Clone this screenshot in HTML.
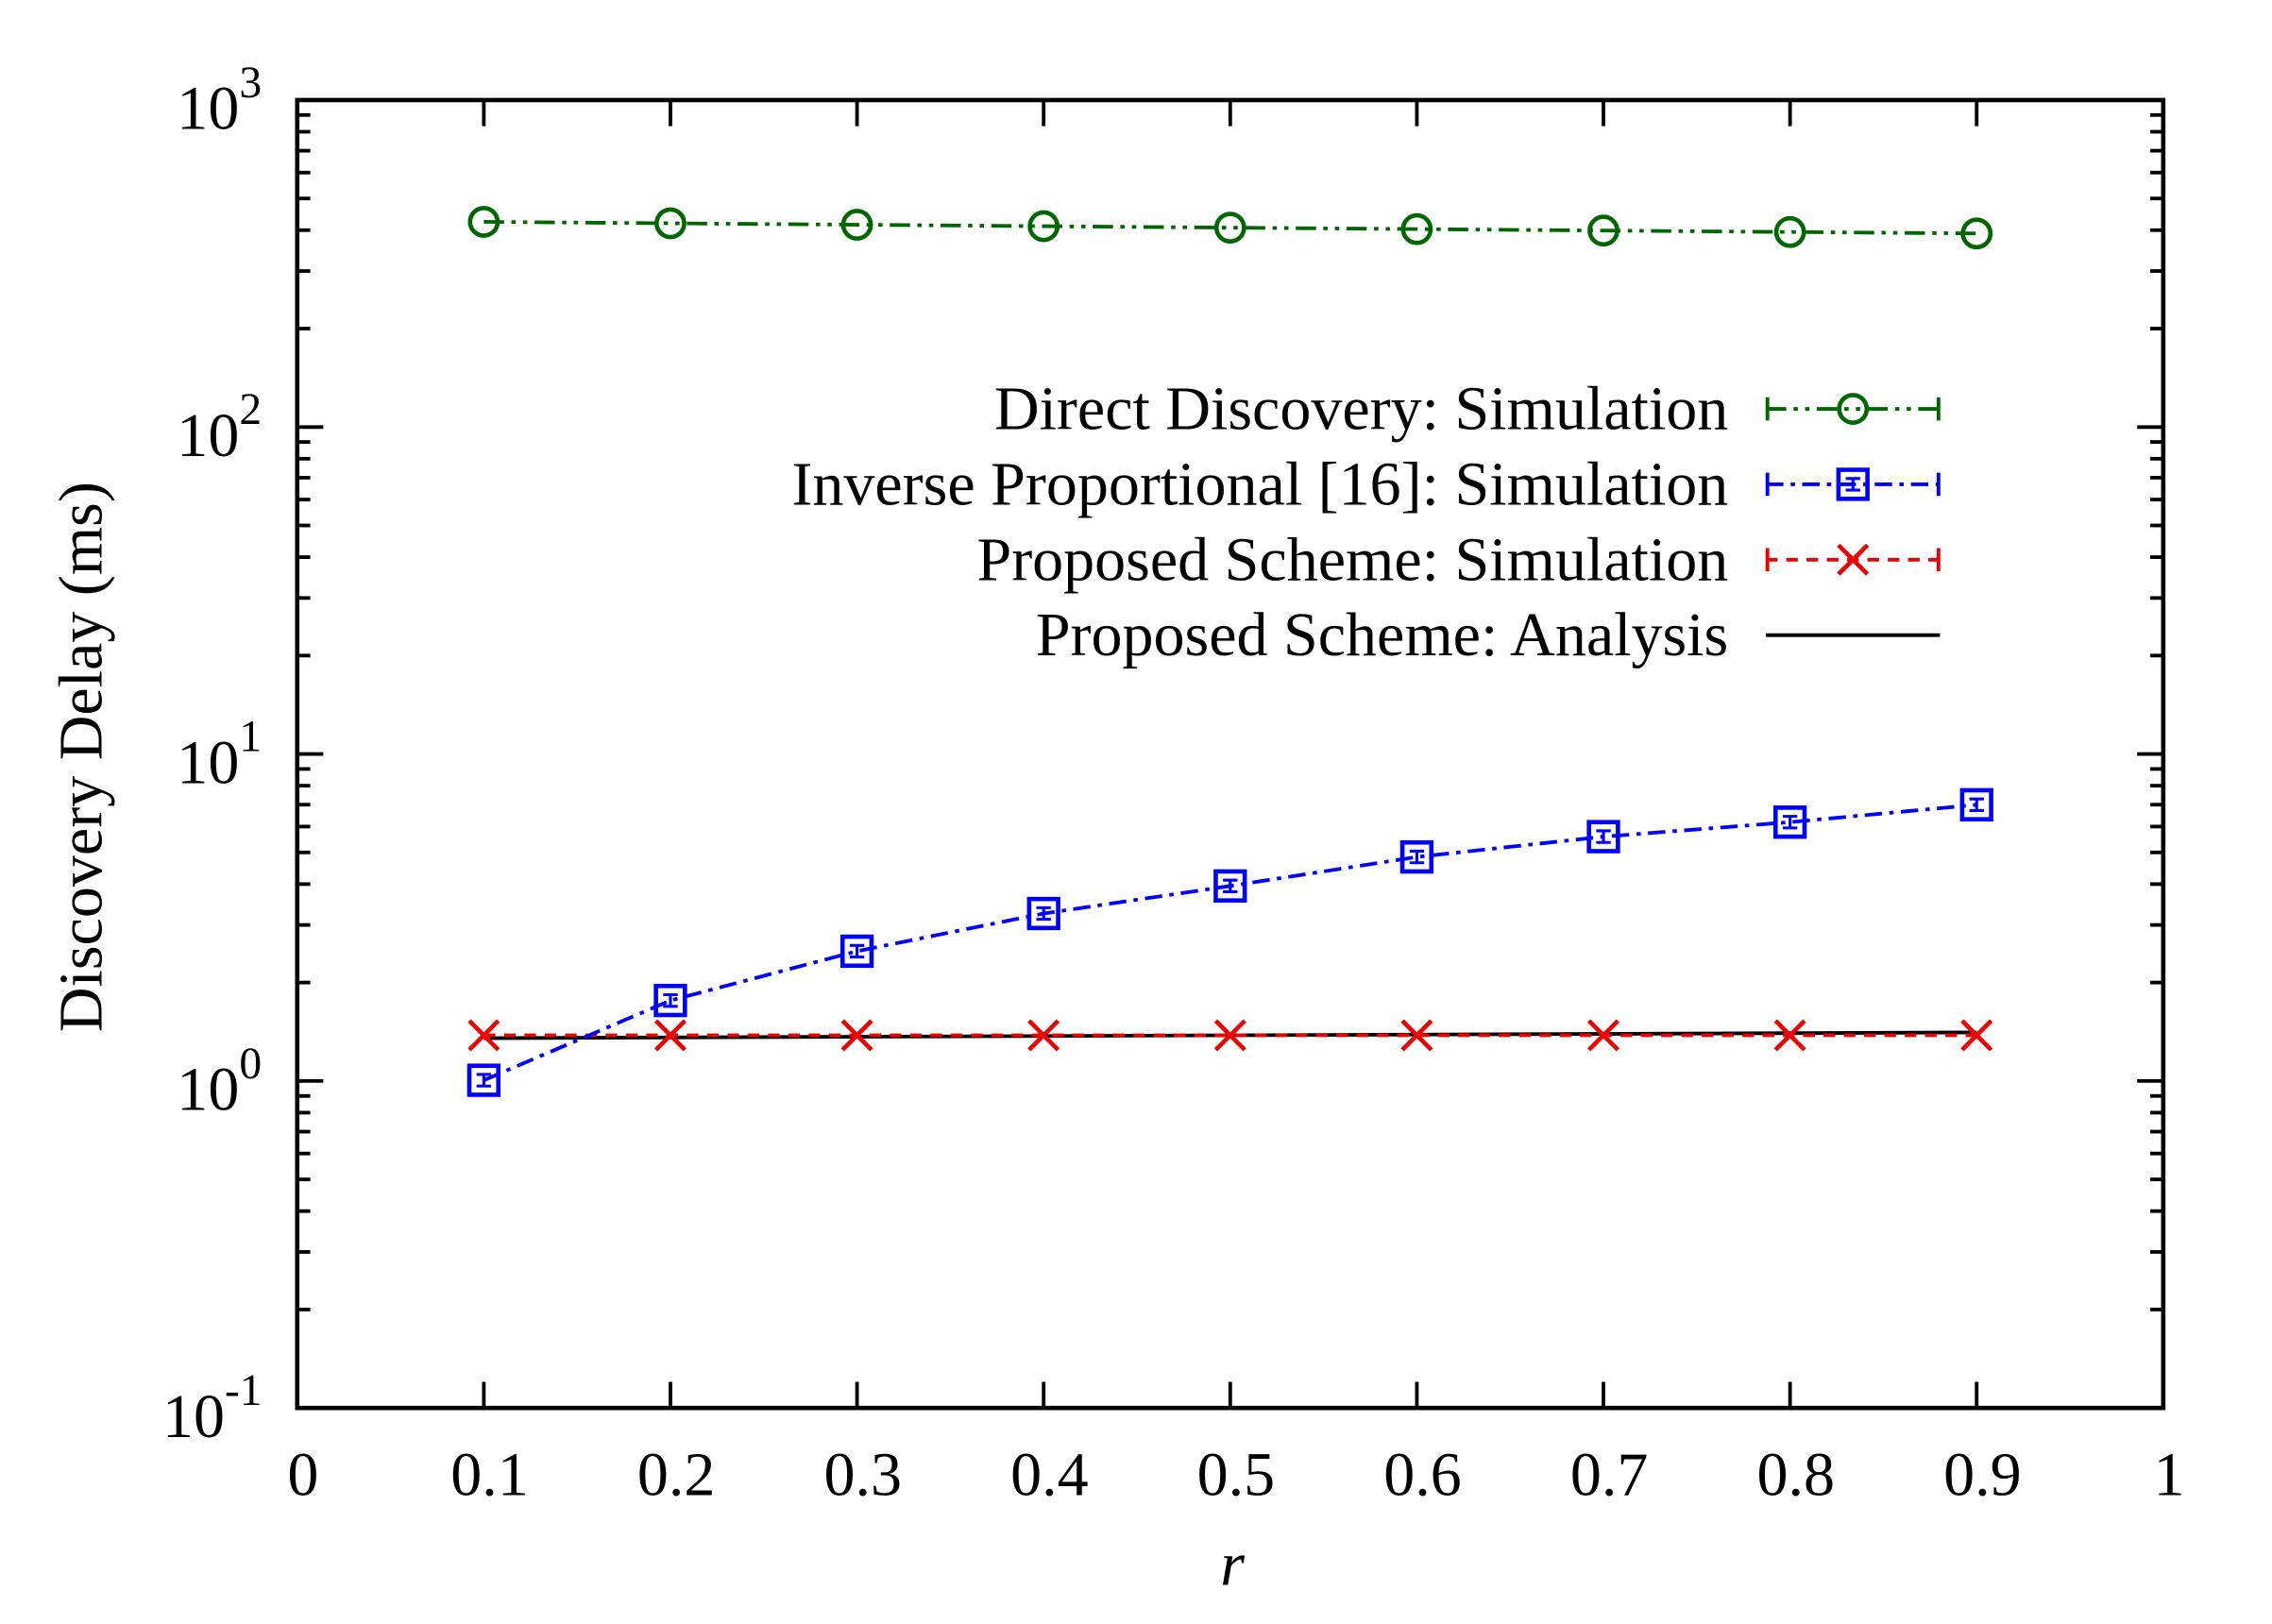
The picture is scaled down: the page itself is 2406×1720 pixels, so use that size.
<!DOCTYPE html>
<html><head><meta charset="utf-8"><style>html,body{margin:0;padding:0;background:#fff}svg{display:block}</style></head>
<body>
<svg id="s" width="2406" height="1720" viewBox="0 0 1567 1120" preserveAspectRatio="none" xmlns="http://www.w3.org/2000/svg" font-family="Liberation Serif, serif">
<rect width="1567" height="1120" fill="#fff"/>
<g id="g"></g>
</svg>
<script>
const X0=205,X1=1492,Y3=69,Y_1=971,D=(Y_1-Y3)/4;
const xs=r=>X0+(X1-X0)*r;
const ys=v=>Y_1-(Math.log10(v)+1)*D;
const FS=43;
let h='';
for(let i=0;i<=10;i++){const x=xs(i/10);
 h+=`<line x1="${x}" y1="${Y_1}" x2="${x}" y2="${Y_1-18}" stroke="#000" stroke-width="2.5"/>`;
 h+=`<line x1="${x}" y1="${Y3}" x2="${x}" y2="${Y3+18}" stroke="#000" stroke-width="2.5"/>`;
 const lab=i==0?'0':i==10?'1':'0.'+i;
 h+=`<text x="${x+4}" y="1031" font-size="${FS}" text-anchor="middle">${lab}</text>`;}
for(let e=-1;e<=3;e++){
 const y=ys(Math.pow(10,e));
 h+=`<line x1="${X0}" y1="${y}" x2="${X0+18}" y2="${y}" stroke="#000" stroke-width="2.5"/><line x1="${X1}" y1="${y}" x2="${X1-18}" y2="${y}" stroke="#000" stroke-width="2.5"/>`;
 h+=`<text x="${e<0?112:122}" y="${y+20}" font-size="${FS}">10<tspan dy="-22" font-size="31">${e}</tspan></text>`;
 if(e<3)for(let m=2;m<=9;m++){const yy=ys(m*Math.pow(10,e));
  h+=`<line x1="${X0}" y1="${yy}" x2="${X0+9}" y2="${yy}" stroke="#000" stroke-width="2.5"/><line x1="${X1}" y1="${yy}" x2="${X1-9}" y2="${yy}" stroke="#000" stroke-width="2.5"/>`;}
}
h+=`<rect x="${X0}" y="${Y3}" width="${X1-X0}" height="${Y_1-Y3}" fill="none" stroke="#000" stroke-width="3"/>`;
h+=`<text x="850" y="1093" font-size="${FS}" font-style="italic" text-anchor="middle">r</text>`;
h+=`<text transform="translate(70,522) rotate(-90)" font-size="${FS}" text-anchor="middle">Discovery Delay (ms)</text>`;
const rs=[.1,.2,.3,.4,.5,.6,.7,.8,.9];
const green=[153,154,155,156,157,158,159,160,161];
const blue=[745,690,656,630,611,591,577,567,555];
const red=[714,714,714,714,714,714,714,714,714];
const pts=(a)=>rs.map((r,i)=>`${xs(r)},${a[i]}`).join(' ');
h+=`<polyline points="${xs(.1)},716 ${xs(.9)},712" stroke="#000" stroke-width="2.5" fill="none"/>`;
h+=`<polyline points="${pts(red)}" stroke="#e00" stroke-width="2.5" stroke-dasharray="8,6" fill="none"/>`;
h+=`<polyline points="${pts(green)}" stroke="#060" stroke-width="2.5" stroke-dasharray="14,5,3,5,3,5" fill="none"/>`;
h+=`<polyline points="${pts(blue)}" stroke="#00f" stroke-width="2.5" stroke-dasharray="12,5,3,5" fill="none"/>`;
const circ=(x,y)=>`<circle cx="${x}" cy="${y}" r="9.5" stroke="#060" stroke-width="3" fill="none"/>`;
const sq=(x,y)=>`<rect x="${x-10}" y="${y-10}" width="20" height="20" stroke="#00f" stroke-width="3" fill="none"/><path d="M${x-5} ${y-4}H${x+5}M${x} ${y-4}V${y+4}M${x-5} ${y+4}H${x+5}" stroke="#00f" stroke-width="2"/>`;
const cr=(x,y)=>`<path d="M${x-10} ${y-10}L${x+10} ${y+10}M${x-10} ${y+10}L${x+10} ${y-10}" stroke="#e00" stroke-width="3"/>`;
rs.forEach((r,i)=>{h+=circ(xs(r),green[i])+sq(xs(r),blue[i])+cr(xs(r),red[i]);});
const L=[["Direct Discovery: Simulation",282],["Inverse Proportional [16]: Simulation",334],["Proposed Scheme: Simulation",386],["Proposed Scheme: Analysis",438]];
L.forEach(([t,y])=>h+=`<text x="1192" y="${y+14}" font-size="${FS}" text-anchor="end">${t}</text>`);
h+=`<line x1="1218" y1="282" x2="1338" y2="282" stroke="#060" stroke-width="2.5" stroke-dasharray="14,5,3,5,3,5"/><line x1="1219" y1="274" x2="1219" y2="290" stroke="#060" stroke-width="2.5"/><line x1="1337" y1="274" x2="1337" y2="290" stroke="#060" stroke-width="2.5"/>`+circ(1278,282);
h+=`<line x1="1218" y1="334" x2="1338" y2="334" stroke="#00f" stroke-width="2.5" stroke-dasharray="12,5,3,5"/><line x1="1219" y1="326" x2="1219" y2="342" stroke="#00f" stroke-width="2.5"/><line x1="1337" y1="326" x2="1337" y2="342" stroke="#00f" stroke-width="2.5"/>`+sq(1278,334);
h+=`<line x1="1218" y1="386" x2="1338" y2="386" stroke="#e00" stroke-width="2.5" stroke-dasharray="8,6"/><line x1="1219" y1="378" x2="1219" y2="394" stroke="#e00" stroke-width="2.5"/><line x1="1337" y1="378" x2="1337" y2="394" stroke="#e00" stroke-width="2.5"/>`+cr(1278,386);
h+=`<line x1="1218" y1="438" x2="1338" y2="438" stroke="#000" stroke-width="2.5"/>`;
document.getElementById('g').innerHTML=h;
</script>
</body></html>
